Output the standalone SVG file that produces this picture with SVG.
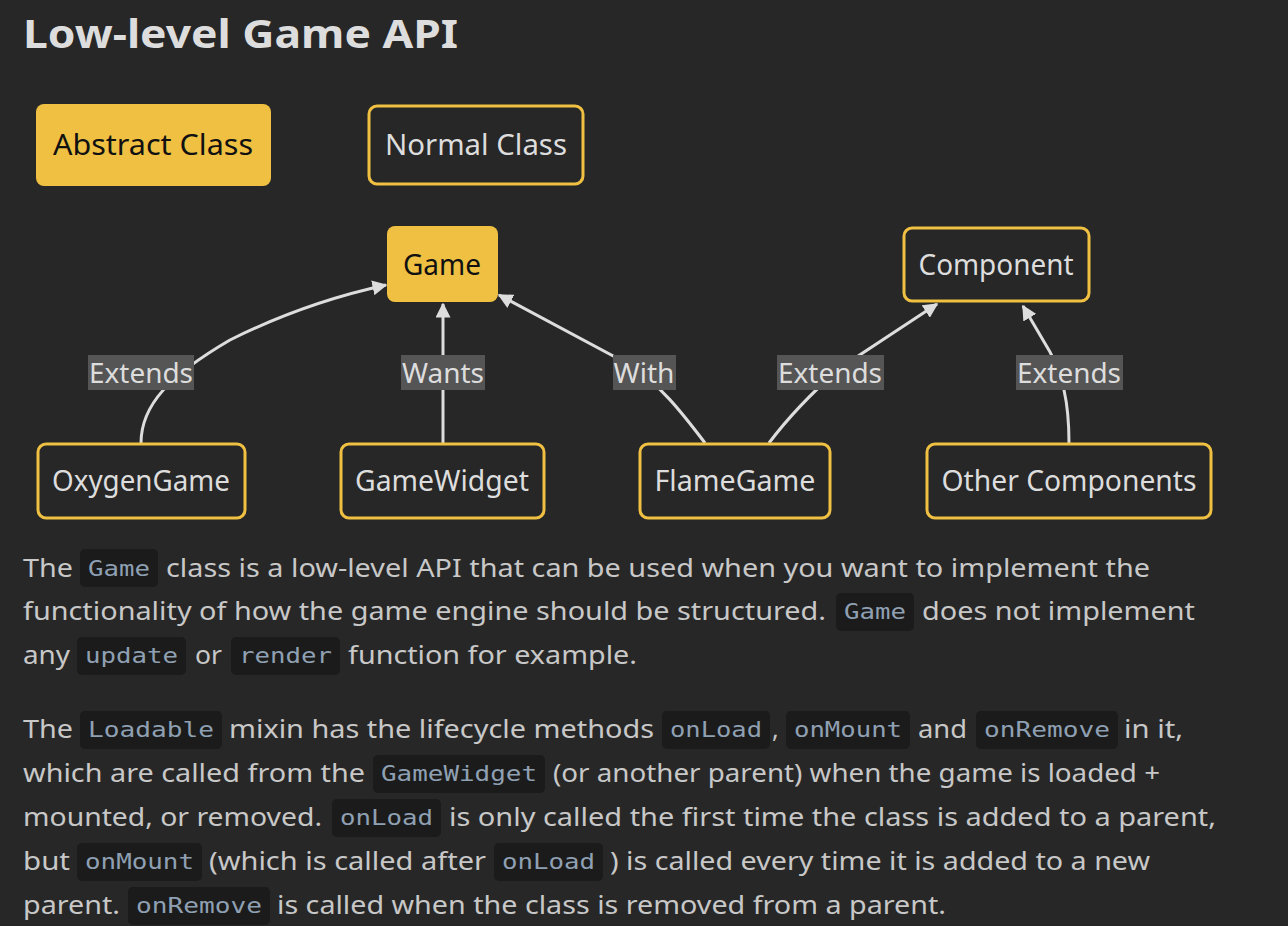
<svg xmlns="http://www.w3.org/2000/svg" width="1288" height="926" viewBox="0 0 1288 926">
<defs>
<marker id="ah" viewBox="0 0 10 10" refX="9" refY="5" markerWidth="5" markerHeight="5" orient="auto"><path d="M0,0L10,5L0,10z" fill="#dddddd"/></marker>
<style>
.bg{fill:#272727}
.ab{fill:#efc042}
.nm{fill:#272727;stroke:#efc042;stroke-width:3}
.nt{font-family:"Noto Sans","DejaVu Sans",sans-serif;font-size:29px;text-anchor:middle;fill:#dddddd}
.at{font-family:"Noto Sans","DejaVu Sans",sans-serif;font-size:29px;text-anchor:middle;fill:#111}
.e{fill:none;stroke:#dddddd;stroke-width:3;marker-end:url(#ah)}
.lb{fill:#555555}
.lt{font-family:"Noto Sans","DejaVu Sans",sans-serif;font-size:28px;text-anchor:middle;fill:#dddddd}
.p{font-family:"Noto Sans","DejaVu Sans",sans-serif;font-size:25px;fill:#c8c8c8}
.cb{fill:#1b1b1b}
.c{font-family:"DejaVu Sans Mono","Liberation Mono",monospace;font-size:22px;fill:#8fa0b3}
</style>
</defs>
<rect class="bg" width="1288" height="926"/>
<text x="23" y="48" font-family="Noto Sans, DejaVu Sans, sans-serif" font-size="40" font-weight="bold" fill="#dddddd" textLength="435" lengthAdjust="spacingAndGlyphs">Low-level Game API</text>
<g id="legend-abstract"><rect class="ab" x="36" y="104" width="235" height="82" rx="8"/><text class="at" x="153" y="155" textLength="200" lengthAdjust="spacingAndGlyphs">Abstract Class</text></g>
<g id="legend-normal"><rect class="nm" x="369" y="106" width="214" height="78" rx="8"/><text class="nt" x="476" y="155" textLength="182" lengthAdjust="spacingAndGlyphs">Normal Class</text></g>
<g id="connectors">
<path class="e" d="M141,443 C141,405 170,375 230,340 C290,310 340,295 386,285"/>
<path class="e" d="M443,443 L443,304"/>
<path class="e" d="M705,443 C680,410 660,385 630,365 L499,295"/>
<path class="e" d="M769,443 C790,415 815,390 840,368 L937,304"/>
<path class="e" d="M1069,443 C1069,400 1062,375 1050,352 L1023,306"/>
<rect class="lb" x="88" y="355" width="106" height="35"/><text class="lt" x="141" y="383" textLength="104" lengthAdjust="spacingAndGlyphs">Extends</text>
<rect class="lb" x="401" y="355" width="84" height="35"/><text class="lt" x="443" y="383" textLength="82" lengthAdjust="spacingAndGlyphs">Wants</text>
<rect class="lb" x="613" y="355" width="63" height="35"/><text class="lt" x="644" y="383" textLength="61" lengthAdjust="spacingAndGlyphs">With</text>
<rect class="lb" x="777" y="355" width="107" height="35"/><text class="lt" x="830" y="383" textLength="104" lengthAdjust="spacingAndGlyphs">Extends</text>
<rect class="lb" x="1016" y="355" width="107" height="35"/><text class="lt" x="1069" y="383" textLength="104" lengthAdjust="spacingAndGlyphs">Extends</text>
</g>
<g id="game"><rect class="ab" x="387" y="226" width="111" height="76" rx="8"/><text class="at" x="442" y="275" textLength="78" lengthAdjust="spacingAndGlyphs">Game</text></g>
<g id="component"><rect class="nm" x="904" y="228" width="185" height="73" rx="8"/><text class="nt" x="996" y="275" textLength="155" lengthAdjust="spacingAndGlyphs">Component</text></g>
<g id="oxygengame"><rect class="nm" x="38" y="444" width="207" height="74" rx="8"/><text class="nt" x="141" y="491" textLength="178" lengthAdjust="spacingAndGlyphs">OxygenGame</text></g>
<g id="gamewidget"><rect class="nm" x="341" y="444" width="203" height="74" rx="8"/><text class="nt" x="442" y="491" textLength="174" lengthAdjust="spacingAndGlyphs">GameWidget</text></g>
<g id="flamegame"><rect class="nm" x="640" y="444" width="190" height="74" rx="8"/><text class="nt" x="735" y="491" textLength="161" lengthAdjust="spacingAndGlyphs">FlameGame</text></g>
<g id="othercomponents"><rect class="nm" x="927" y="444" width="284" height="74" rx="8"/><text class="nt" x="1069" y="491" textLength="255" lengthAdjust="spacingAndGlyphs">Other Components</text></g>
<g id="text">
<rect class="cb" x="80" y="549" width="78" height="38" rx="5"/>
<rect class="cb" x="836" y="593" width="78" height="38" rx="5"/>
<rect class="cb" x="77" y="637" width="109" height="38" rx="5"/>
<rect class="cb" x="231" y="637" width="109" height="38" rx="5"/>
<rect class="cb" x="80" y="711" width="142" height="38" rx="5"/>
<rect class="cb" x="662" y="711" width="108" height="38" rx="5"/>
<rect class="cb" x="786" y="711" width="124" height="38" rx="5"/>
<rect class="cb" x="976" y="711" width="142" height="38" rx="5"/>
<rect class="cb" x="373" y="755" width="172" height="38" rx="5"/>
<rect class="cb" x="332" y="799" width="109" height="38" rx="5"/>
<rect class="cb" x="77" y="843" width="125" height="38" rx="5"/>
<rect class="cb" x="494" y="843" width="109" height="38" rx="5"/>
<rect class="cb" x="128" y="887" width="142" height="38" rx="5"/>

<text class="p" x="23" y="577" textLength="50" lengthAdjust="spacingAndGlyphs">The</text>
<text class="c" x="88" y="576" textLength="62" lengthAdjust="spacingAndGlyphs">Game</text>
<text class="p" x="166" y="577" textLength="984" lengthAdjust="spacingAndGlyphs">class is a low-level API that can be used when you want to implement the</text>
<text class="p" x="23" y="620" textLength="803" lengthAdjust="spacingAndGlyphs">functionality of how the game engine should be structured.</text>
<text class="c" x="844" y="619" textLength="62" lengthAdjust="spacingAndGlyphs">Game</text>
<text class="p" x="922" y="620" textLength="273" lengthAdjust="spacingAndGlyphs">does not implement</text>
<text class="p" x="23" y="664" textLength="47" lengthAdjust="spacingAndGlyphs">any</text>
<text class="c" x="85" y="663" textLength="93" lengthAdjust="spacingAndGlyphs">update</text>
<text class="p" x="195" y="664" textLength="27" lengthAdjust="spacingAndGlyphs">or</text>
<text class="c" x="239" y="663" textLength="93" lengthAdjust="spacingAndGlyphs">render</text>
<text class="p" x="348" y="664" textLength="289" lengthAdjust="spacingAndGlyphs">function for example.</text>

<text class="p" x="23" y="738" textLength="50" lengthAdjust="spacingAndGlyphs">The</text>
<text class="c" x="88" y="737" textLength="126" lengthAdjust="spacingAndGlyphs">Loadable</text>
<text class="p" x="229" y="738" textLength="425" lengthAdjust="spacingAndGlyphs">mixin has the lifecycle methods</text>
<text class="c" x="670" y="737" textLength="92" lengthAdjust="spacingAndGlyphs">onLoad</text>
<text class="p" x="772" y="738">,</text>
<text class="c" x="794" y="737" textLength="108" lengthAdjust="spacingAndGlyphs">onMount</text>
<text class="p" x="918" y="738" textLength="49" lengthAdjust="spacingAndGlyphs">and</text>
<text class="c" x="984" y="737" textLength="126" lengthAdjust="spacingAndGlyphs">onRemove</text>
<text class="p" x="1124" y="738" textLength="59" lengthAdjust="spacingAndGlyphs">in it,</text>
<text class="p" x="23" y="782" textLength="342" lengthAdjust="spacingAndGlyphs">which are called from the</text>
<text class="c" x="381" y="781" textLength="156" lengthAdjust="spacingAndGlyphs">GameWidget</text>
<text class="p" x="553" y="782" textLength="607" lengthAdjust="spacingAndGlyphs">(or another parent) when the game is loaded +</text>
<text class="p" x="23" y="826" textLength="299" lengthAdjust="spacingAndGlyphs">mounted, or removed.</text>
<text class="c" x="340" y="825" textLength="93" lengthAdjust="spacingAndGlyphs">onLoad</text>
<text class="p" x="449" y="826" textLength="767" lengthAdjust="spacingAndGlyphs">is only called the first time the class is added to a parent,</text>
<text class="p" x="23" y="870" textLength="47" lengthAdjust="spacingAndGlyphs">but</text>
<text class="c" x="85" y="869" textLength="109" lengthAdjust="spacingAndGlyphs">onMount</text>
<text class="p" x="209" y="870" textLength="277" lengthAdjust="spacingAndGlyphs">(which is called after</text>
<text class="c" x="502" y="869" textLength="93" lengthAdjust="spacingAndGlyphs">onLoad</text>
<text class="p" x="610" y="870" textLength="540" lengthAdjust="spacingAndGlyphs">) is called every time it is added to a new</text>
<text class="p" x="23" y="914" textLength="97" lengthAdjust="spacingAndGlyphs">parent.</text>
<text class="c" x="136" y="913" textLength="126" lengthAdjust="spacingAndGlyphs">onRemove</text>
<text class="p" x="277" y="914" textLength="669" lengthAdjust="spacingAndGlyphs">is called when the class is removed from a parent.</text>
</g>
</svg>
